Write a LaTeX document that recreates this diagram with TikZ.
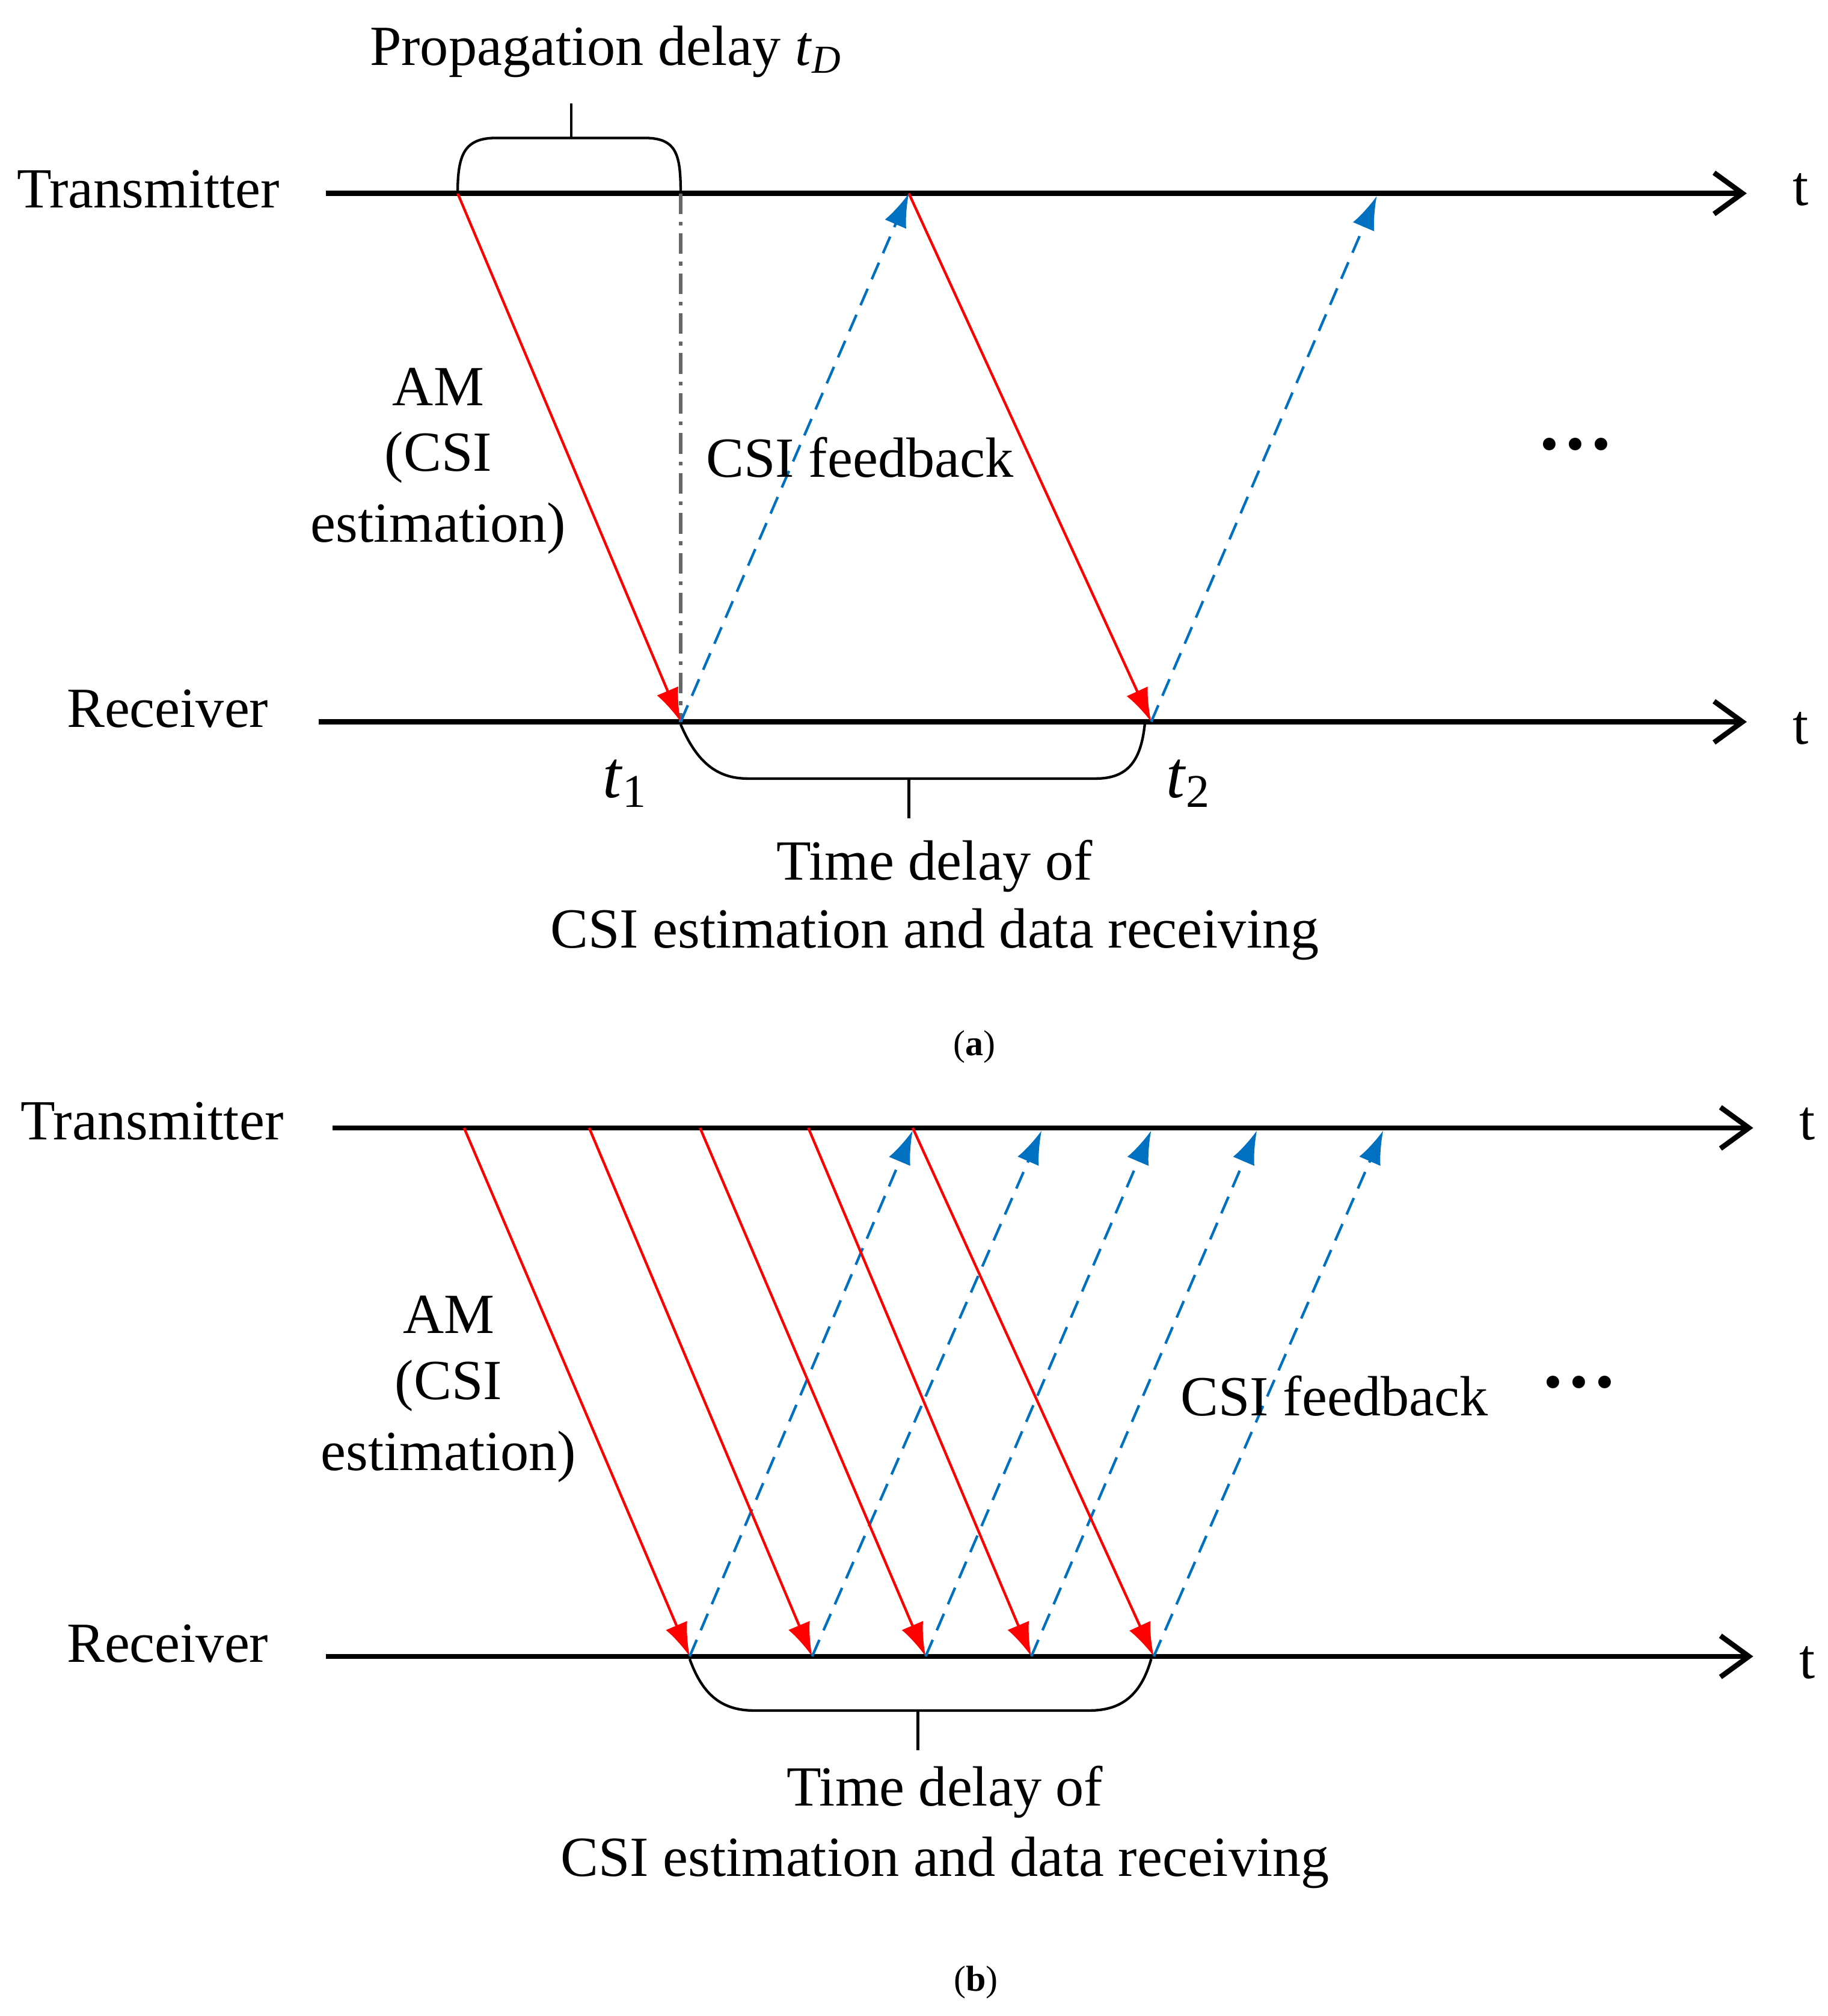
\documentclass[tikz,border=0pt]{standalone}
\usepackage{fontspec}
\setmainfont{Liberation Serif}
\usetikzlibrary{arrows.meta}
\definecolor{fbblue}{RGB}{0,112,192}
\begin{document}
\begin{tikzpicture}[x=0.5pt,y=-0.5pt,
  axis/.style={line width=2pt,-{Straight Barb[length=11pt,width=16pt,line width=2pt]}},
  am/.style={red,line width=1pt,-{Latex[length=13pt,width=9pt]}},
  fb/.style={fbblue,line width=1pt,dash pattern=on 7pt off 4pt,-{Latex[length=13pt,width=9pt]}},
  br/.style={line width=1pt},
  lab/.style={font=\fontsize{22}{26}\selectfont,inner sep=0pt},
  dots/.style={font=\fontsize{30}{30}\bfseries\selectfont,inner sep=0pt},
  captext/.style={font=\fontsize{14}{16}\selectfont,inner sep=0pt}]
\useasboundingbox (0,0) rectangle (1418,1564);
% ---------- (a)
\node[lab] (tx) at (115,147) {Transmitter};
\node[lab] (rx) at (130,550) {Receiver};
\draw[axis] (253,150) -- (1355,150) coordinate (tend);
\draw[axis] (247,560) -- (1355,560) coordinate (rend);
\node[lab] at (1397,147) {t};
\node[lab] at (1397,565) {t};
\coordinate (A1) at (355,150); \coordinate (B1) at (528,560);
\coordinate (A2) at (705,150); \coordinate (B2) at (893,560);
\coordinate (A3) at (1068,152);
\draw[gray!80!black,line width=1.3pt,dash pattern=on 8pt off 3pt on 1.5pt off 3pt] (528,150) -- (B1);
\draw[am] (A1) -- (B1);
\draw[am] (A2) -- (B2);
\draw[fb] (B1) -- (A2);
\draw[fb] (B2) -- (A3);
\draw[br] (A1) .. controls (355,120) and (360,107) .. (385,107) -- (500,107) .. controls (525,107) and (528,120) .. (528,150);
\draw[br] (443,107) -- (443,80);
\node[lab] at (470,40) {Propagation delay \textit{t}\textsubscript{\textit{D}}};
\draw[br] (528,562) .. controls (540,590) and (555,604) .. (580,604) -- (850,604) .. controls (875,604) and (885,590) .. (888,562);
\draw[br] (705,604) -- (705,635);
\node[lab,font=\fontsize{26}{30}\selectfont] at (485,608) {\textit{t}\textsubscript{1}};
\node[lab,font=\fontsize{26}{30}\selectfont] at (922,608) {\textit{t}\textsubscript{2}};
\node[lab] at (725,672) {Time delay of};
\node[lab] at (725,725) {CSI estimation and data receiving};
\node[lab] at (340,300) {AM};
\node[lab] at (340,355) {(CSI};
\node[lab] at (340,410) {estimation)};
\node[lab] at (667,355) {CSI feedback};
\node[dots] at (1222,352) {···};
\node[captext] at (756,812) {(\textbf{a})};
% ---------- (b)
\node[lab] at (118,870) {Transmitter};
\node[lab] at (130,1275) {Receiver};
\draw[axis] (258,875) -- (1360,875);
\draw[axis] (253,1285) -- (1360,1285);
\node[lab] at (1402,872) {t};
\node[lab] at (1402,1290) {t};
\foreach \i/\s/\r/\u in {1/360/535/708, 2/457/630/808, 3/543/718/893, 4/627/800/975, 5/708/895/1073}{
  \coordinate (s\i) at (\s,875);
  \coordinate (r\i) at (\r,1285);
  \coordinate (u\i) at (\u,877);
}
\foreach \i in {1,...,5}{
  \draw[am] (s\i) -- (r\i);
  \draw[fb] (r\i) -- (u\i);
}
\draw[br] (535,1287) .. controls (545,1315) and (560,1327) .. (585,1327) -- (845,1327) .. controls (870,1327) and (885,1315) .. (893,1287);
\draw[br] (712,1327) -- (712,1358);
\node[lab] at (733,1390) {Time delay of};
\node[lab] at (733,1445) {CSI estimation and data receiving};
\node[lab] at (348,1020) {AM};
\node[lab] at (348,1075) {(CSI};
\node[lab] at (348,1130) {estimation)};
\node[lab] at (1035,1083) {CSI feedback};
\node[dots] at (1225,1080) {···};
\node[captext] at (757,1538) {(\textbf{b})};
\end{tikzpicture}
\end{document}
